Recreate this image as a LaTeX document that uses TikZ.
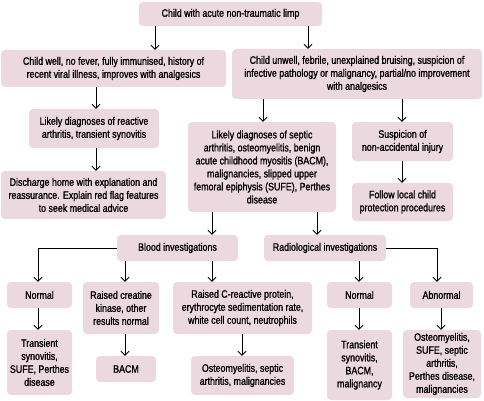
\documentclass[tikz,border=0pt]{standalone}
\usepackage{fontspec}
\setmainfont{Liberation Sans}[FakeStretch=0.82,FakeBold=1.3]
\usetikzlibrary{arrows.meta}
\definecolor{boxpink}{RGB}{236,216,223}
\begin{document}
\begin{tikzpicture}[x=1pt,y=-1pt,
  box/.style={fill=boxpink,rounded corners=4pt,inner sep=0pt,align=center,
    font=\fontsize{10.8}{13}\selectfont},
  arr/.style={line width=0.8pt,-{Straight Barb[length=4pt,width=8pt]}},
  ln/.style={line width=0.8pt}]
\useasboundingbox (0,0) rectangle (484,401);
% boxes
\node[box,minimum width=183pt,minimum height=24pt] (top) at (230.5,14) {Child with acute non-traumatic limp};
\node[box,minimum width=225pt,minimum height=37pt] (well) at (113.5,68.5) {Child well, no fever, fully immunised, history of\\recent viral illness, improves with analgesics};
\node[box,minimum width=250pt,minimum height=50pt] (unwell) at (357,74) {Child unwell, febrile, unexplained bruising, suspicion of\\infective pathology or malignancy, partial/no improvement\\with analgesics};
\node[box,minimum width=130pt,minimum height=39pt] (reactive) at (94,128.5) {Likely diagnoses of reactive\\arthritis, transient synovitis};
\node[box,minimum width=165pt,minimum height=48pt] (discharge) at (83.5,195) {Discharge home with explanation and\\reassurance. Explain red flag features\\to seek medical advice};
\node[box,minimum width=148pt,minimum height=90pt] (septic) at (262,167) {Likely diagnoses of septic\\arthritis, osteomyelitis, benign\\acute childhood myositis (BACM),\\malignancies, slipped upper\\femoral epiphysis (SUFE), Perthes\\disease};
\node[box,minimum width=101pt,minimum height=39pt] (nai) at (402.5,141.5) {Suspicion of\\non-accidental injury};
\node[box,minimum width=101pt,minimum height=38pt] (follow) at (402.5,202) {Follow local child\\protection procedures};
\node[box,minimum width=121pt,minimum height=26pt] (blood) at (177.5,248) {Blood investigations};
\node[box,minimum width=122pt,minimum height=26pt] (radio) at (325,248) {Radiological investigations};
\node[box,minimum width=65pt,minimum height=26pt] (bnormal) at (39.5,295) {Normal};
\node[box,minimum width=76pt,minimum height=52pt] (creatine) at (121,308) {Raised creatine\\kinase, other\\results normal};
\node[box,minimum width=139pt,minimum height=52pt] (crp) at (242.5,308) {Raised C-reactive protein,\\erythrocyte sedimentation rate,\\white cell count, neutrophils};
\node[box,minimum width=65pt,minimum height=26pt] (rnormal) at (359.5,295) {Normal};
\node[box,minimum width=63pt,minimum height=26pt] (abnormal) at (441.5,295) {Abnormal};
\node[box,minimum width=65pt,minimum height=65pt] (btrans) at (39.5,362.5) {Transient\\synovitis,\\SUFE, Perthes\\disease};
\node[box,minimum width=60pt,minimum height=26pt] (bacm) at (126,369) {BACM};
\node[box,minimum width=103pt,minimum height=39pt] (osteo1) at (242.5,375.5) {Osteomyelitis, septic\\arthritis, malignancies};
\node[box,minimum width=65pt,minimum height=70pt] (rtrans) at (359.5,365) {Transient\\synovitis,\\BACM,\\malignancy};
\node[box,minimum width=78pt,minimum height=68pt] (osteo2) at (442,364) {Osteomyelitis,\\SUFE, septic\\arthritis,\\Perthes disease,\\malignancies};
% column coordinates
\coordinate (c38) at (38,0);
\coordinate (c96) at (96,0);
\coordinate (c125) at (125,0);
\coordinate (c155) at (155,0);
\coordinate (c212) at (212,0);
\coordinate (c242) at (242,0);
\coordinate (c263) at (263,0);
\coordinate (c308) at (308,0);
\coordinate (c317) at (317,0);
\coordinate (c359) at (359,0);
\coordinate (c402) at (402,0);
\coordinate (c437) at (437,0);
\coordinate (c441) at (441,0);
% connectors
\draw[arr] (top.south -| c155) -- (well.north -| c155);
\draw[arr] (top.south -| c308) -- (unwell.north -| c308);
\draw[arr] (well.south -| c96) -- (reactive.north -| c96);
\draw[arr] (reactive.south -| c96) -- (discharge.north -| c96);
\draw[arr] (unwell.south -| c263) -- (septic.north -| c263);
\draw[arr] (unwell.south -| c402) -- (nai.north -| c402);
\draw[arr] (nai.south -| c402) -- (follow.north -| c402);
\draw[arr] (septic.south -| c212) -- (blood.north -| c212);
\draw[arr] (septic.south -| c317) -- (radio.north -| c317);
\draw[arr] (blood.west) -| (bnormal.north -| c38);
\draw[arr] (blood.south -| c125) -- (creatine.north -| c125);
\draw[arr] (blood.south -| c212) -- (crp.north -| c212);
\draw[arr] (bnormal.south -| c38) -- (btrans.north -| c38);
\draw[arr] (creatine.south -| c125) -- (bacm.north -| c125);
\draw[arr] (crp.south -| c242) -- (osteo1.north -| c242);
\draw[arr] (radio.south -| c359) -- (rnormal.north -| c359);
\draw[arr] (radio.east) -| (abnormal.north -| c437);
\draw[arr] (rnormal.south -| c359) -- (rtrans.north -| c359);
\draw[arr] (abnormal.south -| c441) -- (osteo2.north -| c441);
\end{tikzpicture}
\end{document}
